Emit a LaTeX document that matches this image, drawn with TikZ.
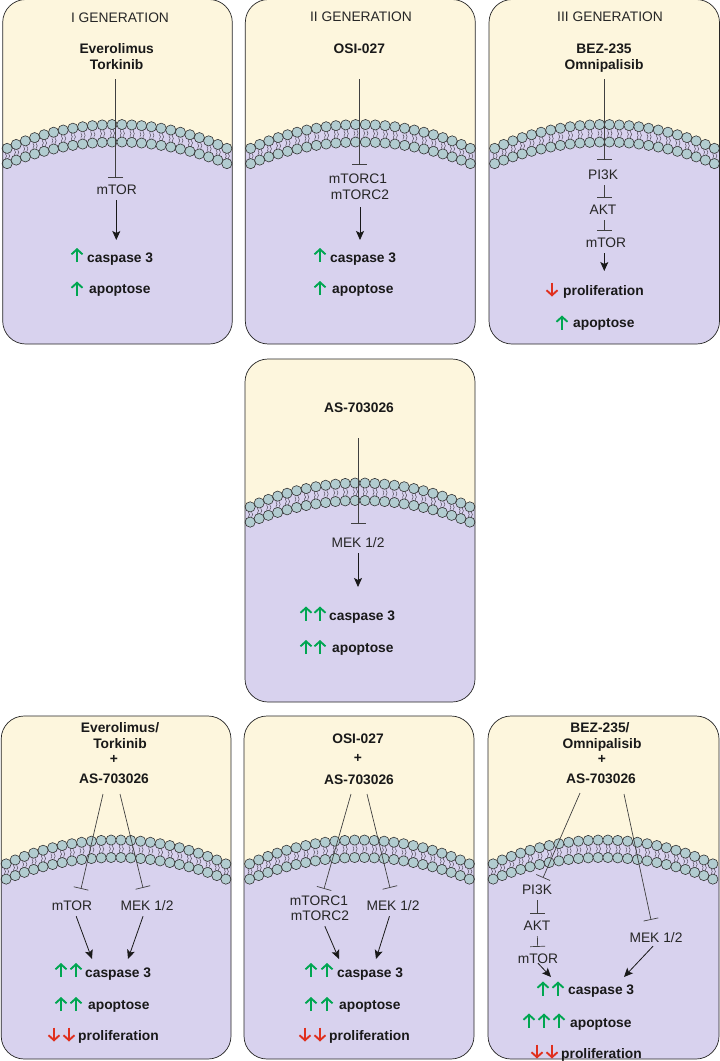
\documentclass[tikz,border=0pt]{standalone}
\usepackage{fontspec}
\setmainfont{Liberation Sans}
\usetikzlibrary{arrows.meta}
\definecolor{cellout}{HTML}{FDF6DD}
\definecolor{cellin}{HTML}{D8D2EE}
\definecolor{lipid}{HTML}{B2CCD0}
\definecolor{tailc}{HTML}{4A4452}
\definecolor{upgreen}{HTML}{00A651}
\definecolor{downred}{HTML}{E0301E}
\tikzset{
  drug/.style={font=\fontsize{13.8}{16}\selectfont\bfseries,inner sep=1pt,text height=10pt,text depth=0pt,text=black!90},
  gen/.style={font=\fontsize{13.8}{16}\selectfont,inner sep=1pt,text height=10pt,text depth=0pt,text=black!85},
  target/.style={font=\fontsize{13.8}{16}\selectfont,inner xsep=1pt,inner ysep=6pt,text height=10pt,text depth=0pt,text=black!85},
  effect/.style={font=\fontsize{13.8}{16}\selectfont\bfseries,inner sep=0pt,anchor=base west,text=black!90},
  inhib/.style={-{Bar[width=15pt,line width=.7pt]},line width=.7pt,draw=black!75},
  activ/.style={-{Stealth[length=9pt,width=8pt,inset=2pt]},line width=.8pt,draw=black!90},
  upmark/.style={-{Straight Barb[length=5pt,width=11pt,line width=1.9pt]},line width=1.9pt,draw=upgreen},
  downmark/.style={-{Straight Barb[length=5pt,width=11pt,line width=1.9pt]},line width=1.9pt,draw=downred}
}
% left, right, top, bottom, centre of membrane, top of membrane
\newcommand{\cellpanel}[6]{
  \begin{scope}
    \clip[rounded corners=23pt] (#1,#3) rectangle (#2,#4);
    \fill[cellout] (#1,#3) rectangle (#2,#4);
    \fill[cellin] (#5,#6+265) circle[radius=265];
  \end{scope}
  \foreach \i in {-12,...,11}{
    \pgfmathsetmacro\ang{(\i+.5)*2.13}
    \pgfmathsetmacro\dx{265*sin(\ang)}
    \pgfmathsetmacro\yo{#6+265-265*cos(\ang)}
    \pgfmathsetmacro\yi{#6+17.5+290*(1-sqrt(1-(\dx/290)^2))}
    \pgfmathsetmacro\ym{(\yo+\yi)/2}
    \foreach \s in {-1.6,1.6}
      \draw[tailc,line width=.45pt] (#5+\dx+\s,\yo) -- (#5+\dx+\s,\ym-2) -- (#5+\dx+\s+1,\ym) -- (#5+\dx+\s,\ym+2) -- (#5+\dx+\s,\yi);
    \filldraw[fill=lipid,draw=black!80,line width=.6pt] (#5+\dx,\yo) circle[radius=5.1];
    \filldraw[fill=lipid,draw=black!80,line width=.6pt] (#5+\dx,\yi) circle[radius=5.1];
  }
  \draw[line width=.7pt,rounded corners=23pt,draw=black!85] (#1,#3) rectangle (#2,#4);
}
\newcommand{\upgr}[2]{\draw[upmark] (#1,#2+7) -- (#1,#2-7);}
\newcommand{\downrd}[2]{\draw[downmark] (#1,#2-7) -- (#1,#2+7);}

\begin{document}
\begin{tikzpicture}[x=1pt,y=-1pt]
  \useasboundingbox (0,0) rectangle (720,1061);
  \fill[white] (0,0) rectangle (720,1061);
  \cellpanel{2.7}{232.3}{-.5}{344}{117}{124.5}
  \cellpanel{245.3}{475.3}{-.5}{344}{360.5}{124.5}
  \cellpanel{489}{719.5}{-.5}{344}{604.5}{124.5}
  \cellpanel{245}{475}{359}{702}{360}{483}
  \cellpanel{1.2}{231}{716}{1059}{116}{840}
  \cellpanel{244}{474}{716}{1059}{359.5}{840}
  \cellpanel{488}{719}{716}{1059}{603}{840}

  % I generation
  \node[gen] (gena) at (120,17) {I GENERATION};
  \node[drug] (druga) at (116.7,48) {Everolimus};
  \node[drug] (drugb) at (116.7,64) {Torkinib};
  \node[target] (mtora) at (116.7,189) {mTOR};
  \node[effect] (casa) at (87,262) {caspase 3};
  \node[effect] (apoa) at (89,293) {apoptose};
  \coordinate (froma) at (115.7,79);
  \coordinate (tipa) at (116.3,240);
  \draw[inhib] (froma) -- (froma |- mtora.north);
  \draw[activ] (mtora.south -| tipa) -- (tipa);
  \upgr{77}{255}
  \upgr{77}{288.5}

  % II generation
  \node[gen] (genb) at (361,16) {II GENERATION};
  \node[drug] (osib) at (359.3,48) {OSI-027};
  \node[target] (torcb) at (358,178) {mTORC1};
  \node[target] (torcc) at (360,194) {mTORC2};
  \node[effect] (casb) at (330,262) {caspase 3};
  \node[effect] (apob) at (332,293) {apoptose};
  \coordinate (fromb) at (359,79);
  \coordinate (tipb) at (360,240);
  \draw[inhib] (fromb) -- ([yshift=2pt]fromb |- torcb.north);
  \draw[activ] ([yshift=-2pt]torcc.south -| tipb) -- (tipb);
  \upgr{320}{255}
  \upgr{320}{288}

  % III generation
  \node[gen] (genc) at (610,16) {III GENERATION};
  \node[drug] (bezc) at (604,48) {BEZ-235};
  \node[drug] (omnc) at (604,64) {Omnipalisib};
  \node[target] (pikc) at (603,174) {PI3K};
  \node[target] (aktc) at (603,209) {AKT};
  \node[target] (mtorc) at (606,242) {mTOR};
  \node[effect] (proc) at (563,295) {proliferation};
  \node[effect] (apoc) at (573,327) {apoptose};
  \coordinate (fromc) at (604.3,79);
  \coordinate (tipc) at (604.3,271);
  \draw[inhib] (fromc) -- ([yshift=3pt]fromc |- pikc.north);
  \draw[inhib] (pikc.south -| fromc) -- (aktc.north -| fromc);
  \draw[inhib] (aktc.south -| fromc) -- (mtorc.north -| fromc);
  \draw[activ] (mtorc.south -| tipc) -- (tipc);
  \downrd{552}{289.5}
  \upgr{562}{322.5}

  % AS-703026 alone
  \node[drug] (asd) at (359,407) {AS-703026};
  \node[target] (mekd) at (358,542) {MEK 1/2};
  \node[effect] (casd) at (329,620) {caspase 3};
  \node[effect] (apod) at (332,652) {apoptose};
  \coordinate (fromd) at (358,438);
  \coordinate (tipd) at (358,587);
  \draw[inhib] (fromd) -- ([yshift=7pt]mekd.north);
  \draw[activ] (mekd) -- (tipd);
  \upgr{306}{613.5}
  \upgr{320}{613.5}
  \upgr{306}{647}
  \upgr{320}{647}

  % everolimus, torkinib + AS-703026
  \node[drug] (drugea) at (120,727) {Everolimus/};
  \node[drug] (drugeb) at (120,743) {Torkinib};
  \node[drug] (pluse) at (114,758) {+};
  \node[drug] (ase) at (114,778) {AS-703026};
  \node[target] (mtore) at (72,905) {mTOR};
  \node[target] (meke) at (147,905) {MEK 1/2};
  \node[effect] (case) at (85,977) {caspase 3};
  \node[effect] (apoe) at (88,1009) {apoptose};
  \node[effect] (proe) at (78,1040) {proliferation};
  \coordinate (frome) at (103,794);
  \coordinate (fromee) at (120,794);
  \coordinate (tipe) at (92,959);
  \coordinate (tipee) at (128,959);
  \draw[inhib] (frome) -- ([xshift=9pt,yshift=5pt]mtore.north);
  \draw[inhib] (fromee) -- ([xshift=-4pt,yshift=6pt]meke.north);
  \draw[activ] (mtore) -- (tipe);
  \draw[activ] (meke) -- (tipee);
  \upgr{61}{970}
  \upgr{76}{970}
  \upgr{61}{1004}
  \upgr{76}{1004}
  \downrd{54}{1034.5}
  \downrd{69}{1034.5}

  % OSI-027 + AS-703026
  \node[drug] (osif) at (358,738) {OSI-027};
  \node[drug] (plusf) at (358,757) {+};
  \node[drug] (asf) at (359,779) {AS-703026};
  \node[target] (torcf) at (319,900) {mTORC1};
  \node[target] (torcg) at (320,915) {mTORC2};
  \node[target] (mekf) at (393,905) {MEK 1/2};
  \node[effect] (casf) at (337,977) {caspase 3};
  \node[effect] (apof) at (339,1009) {apoptose};
  \node[effect] (prof) at (329,1040) {proliferation};
  \coordinate (fromf) at (351,794);
  \coordinate (fromff) at (367,794);
  \coordinate (tipf) at (339,959);
  \coordinate (tipff) at (376,959);
  \draw[inhib] (fromf) -- ([xshift=5pt]torcf.north);
  \draw[inhib] (fromff) -- ([xshift=-3pt,yshift=6pt]mekf.north);
  \draw[activ] (torcg) -- (tipf);
  \draw[activ] (mekf) -- (tipff);
  \upgr{311}{970}
  \upgr{327}{970}
  \upgr{311}{1004}
  \upgr{327}{1004}
  \downrd{305}{1034.5}
  \downrd{320}{1034.5}

  % BEZ-235, omnipalisib + AS-703026
  \node[drug] (bezg) at (600,727) {BEZ-235/};
  \node[drug] (omng) at (602,743) {Omnipalisib};
  \node[drug] (plusg) at (602,758) {+};
  \node[drug] (asg) at (601,778) {AS-703026};
  \node[target] (pikg) at (537,889) {PI3K};
  \node[target] (aktg) at (537,925) {AKT};
  \node[target] (mtorg) at (538,958) {mTOR};
  \node[target] (mekg) at (656,937) {MEK 1/2};
  \node[effect] (casg) at (568,994) {caspase 3};
  \node[effect] (apog) at (570,1027) {apoptose};
  \node[effect] (prog) at (561,1058) {proliferation};
  \coordinate (fromg) at (580,793);
  \coordinate (fromgg) at (624,794);
  \coordinate (tipg) at (551,977);
  \coordinate (tipgg) at (624,977);
  \draw[inhib] (fromg) -- ([xshift=6pt]pikg.north);
  \draw[inhib] (pikg) -- (aktg);
  \draw[inhib] (aktg) -- (mtorg);
  \draw[inhib] (fromgg) -- ([xshift=-5pt,yshift=6pt]mekg.north);
  \draw[activ] ([yshift=6pt]mtorg.south) -- (tipg);
  \draw[activ] ([xshift=-3pt,yshift=2pt]mekg.south) -- (tipgg);
  \upgr{543}{988.5}
  \upgr{558}{988.5}
  \upgr{529}{1020.5}
  \upgr{544}{1020.5}
  \upgr{559}{1020.5}
  \downrd{537}{1051.5}
  \downrd{552}{1051.5}
\end{tikzpicture}
\end{document}
